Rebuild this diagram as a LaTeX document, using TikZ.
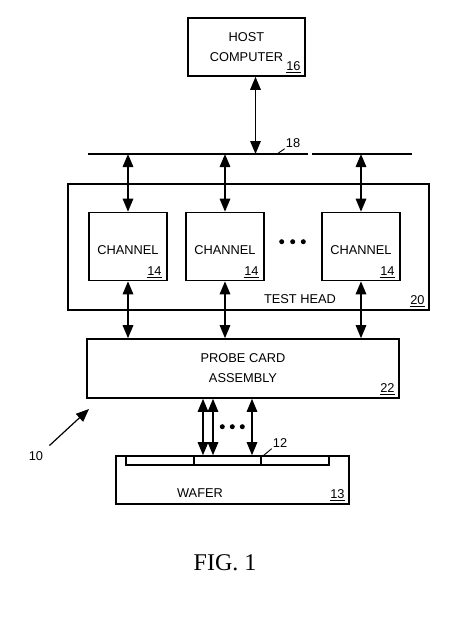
\documentclass[tikz,border=0pt]{standalone}
\usepackage{fontspec}
\setmainfont{Liberation Sans}
\newfontfamily\figfont{Liberation Serif}
\usetikzlibrary{arrows.meta,positioning}
\newcommand{\blockfont}{\fontsize{12.8}{20}\selectfont}

\begin{document}
\begin{tikzpicture}[x=1pt,y=-1pt,
  box/.style={draw,line width=1.6pt,align=center,inner sep=0pt,font=\blockfont},
  pad/.style={draw,line width=1.1pt,inner sep=0pt,minimum height=9pt},
  refnum/.style={anchor=south east,inner sep=1pt,font=\blockfont,xshift=-4pt,yshift=2.5pt},
  tag/.style={inner sep=1pt,font=\blockfont},
  link/.style={{Triangle[width=10.5pt,length=13pt]}-{Triangle[width=10.5pt,length=13pt]},line width=1.5pt},
  leader/.style={line width=0.9pt}
]
\useasboundingbox (0,0) rectangle (474,624);

% Host computer and bus
\node[box,minimum width=117pt,minimum height=58pt] (host) at (246.5,47) {HOST\\COMPUTER};
\node[refnum] at (host.south east) {\underline{16}};
\coordinate (busL) at (88,154);
\coordinate (busA) at (308,154);
\coordinate (busB) at (312,154);
\coordinate (busR) at (412,154);
\draw[line width=2.2pt] (busL) -- (busA) (busB) -- (busR);
\coordinate (tap0) at (255.5,154);
\draw[link] (tap0 |- host.south) -- (tap0);
\node[tag] (n18) at (293,143) {18};
\draw[leader] (277,154) -- (n18.south west);

% Test head with channels
\node[box,minimum width=361pt,minimum height=126pt] (head) at (248.5,247) {};
\node[refnum] at (head.south east) {\underline{20}};
\node[tag] (headtext) at (300,299) {TEST HEAD};
\foreach \i/\x in {1/128,2/225,3/361}{
  \node[box,minimum width=78pt,minimum height=68pt] (ch\i) at (\x,246.5) {};
  \node[tag] (chtext\i) at (\x,250) {CHANNEL};
  \node[refnum,xshift=-1pt] at (ch\i.south east) {\underline{14}};
}
\foreach \x in {281.7,292.7,303.3}
  \fill (\x,241.7) circle (2.5pt);

% Probe card assembly
\node[box,minimum width=312pt,minimum height=59pt] (probe) at (243,368.5) {PROBE CARD\\ASSEMBLY};
\node[refnum,yshift=0.5pt] at (probe.south east) {\underline{22}};
\foreach \i in {1,2,3}{
  \draw[link] (ch\i.north |- busL) -- (ch\i.north);
  \draw[link] (ch\i.south) -- (ch\i.south |- probe.north);
}

% Wafer
\node[box,minimum width=233pt,minimum height=48pt] (wafer) at (232.5,480) {};
\node[refnum,yshift=0.5pt] at (wafer.south east) {\underline{13}};
\node[tag] (wafertext) at (200,493) {WAFER};
\node[pad,minimum width=68pt] (pad1) at (160,460.5) {};
\node[pad,minimum width=67pt] (pad2) at (227.5,460.5) {};
\node[pad,minimum width=68pt] (pad3) at (295,460.5) {};
\foreach \x in {203,213,252}
  \draw[link] (probe.south -| \x,0) -- (wafer.north -| \x,0);
\foreach \x in {222.3,232.3,242.3}
  \fill (\x,426.7) circle (2.5pt);
\node[tag] (n12) at (280,443) {12};
\draw[leader] ([xshift=2pt]pad2.north east) -- (n12.south west);

% System reference
\node[tag] (n10) at (36,456) {10};
\coordinate (aim10) at (89,409);
\draw[-{Triangle[width=10.5pt,length=13pt]},line width=1.2pt,shorten <=7pt] (n10.north east) -- (aim10);

\node[font=\figfont\fontsize{24}{28}\selectfont] (fig) at (225,563) {FIG. 1};
\end{tikzpicture}
\end{document}
